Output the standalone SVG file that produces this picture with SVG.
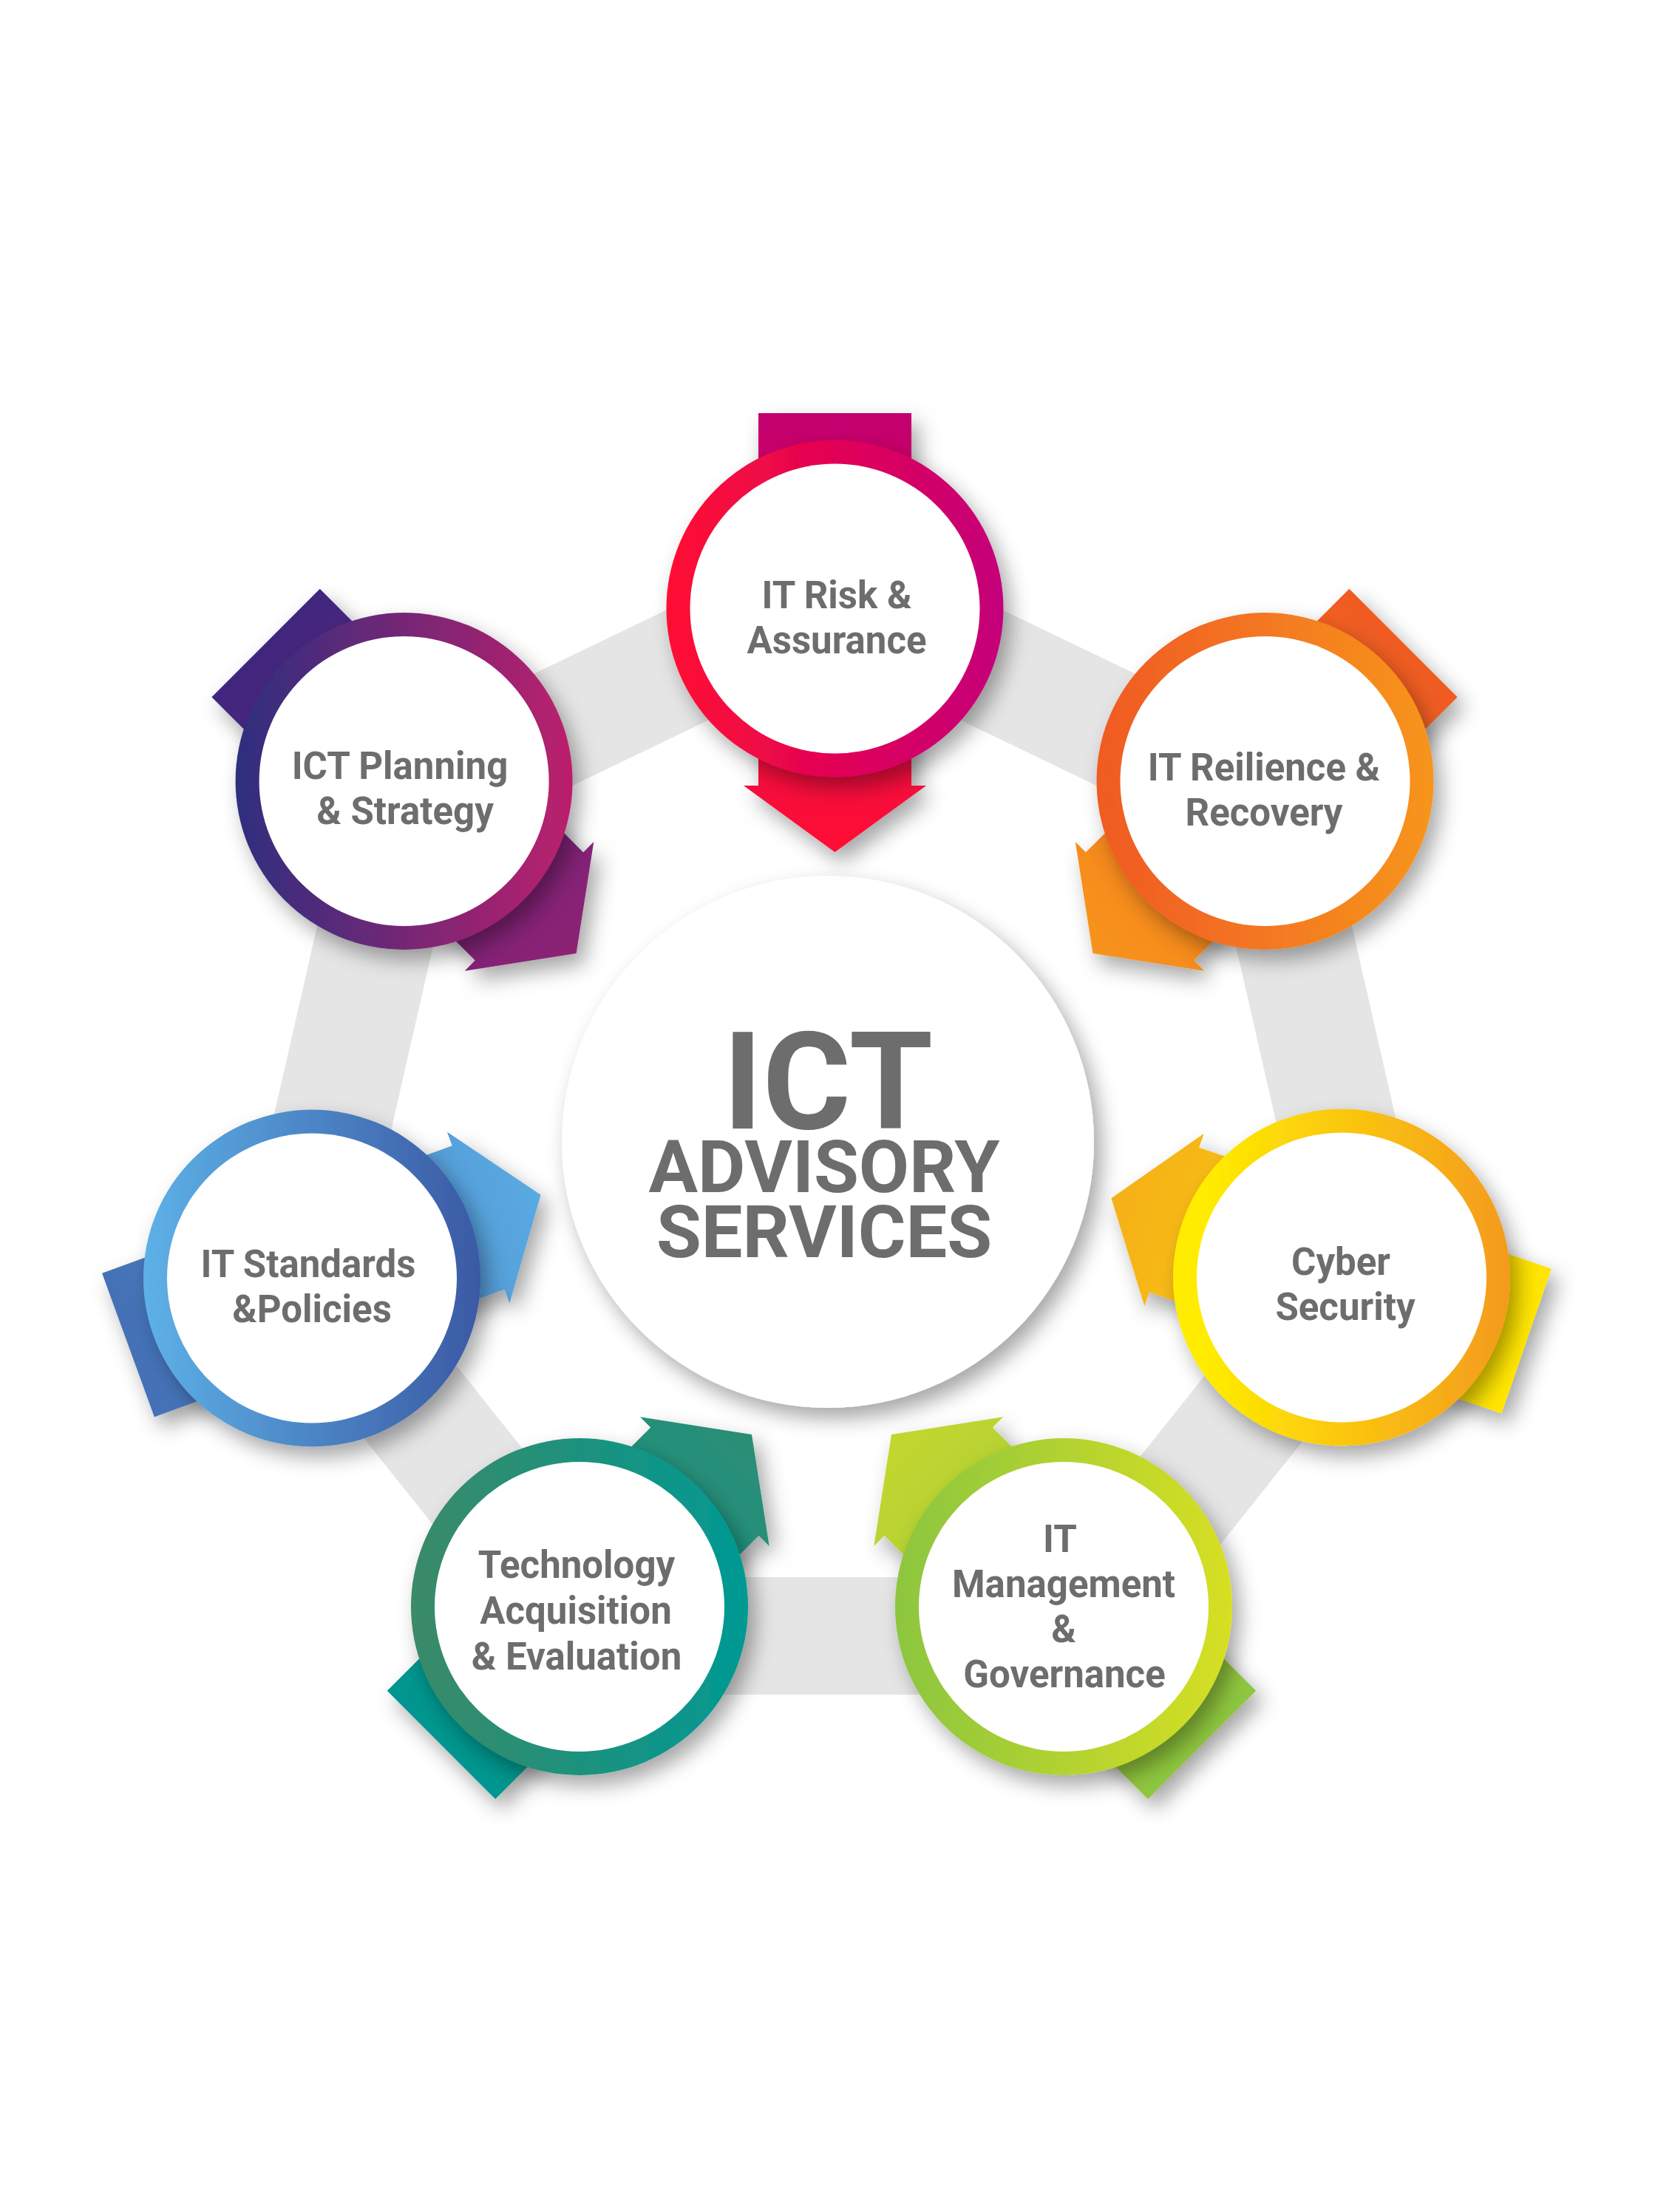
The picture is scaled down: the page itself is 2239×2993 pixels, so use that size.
<svg xmlns="http://www.w3.org/2000/svg" width="2239" height="2993" viewBox="0 0 2239 2993">
<style>
.t{font-family:Roboto,"Liberation Sans",sans-serif;font-weight:700;fill:#6D6D6D;text-anchor:middle;font-size:51px}
.c{font-family:Roboto,"Liberation Sans",sans-serif;font-weight:700;fill:#6D6D6D;text-anchor:middle}
.in{fill:#FFFFFF}
</style>
<defs>
<filter id="sh" x="-30%" y="-30%" width="160%" height="160%">
<feDropShadow dx="10" dy="14" stdDeviation="14" flood-color="#000" flood-opacity="0.35"/>
</filter>
<linearGradient id="r1" x1="0" y1="0" x2="1" y2="0"><stop offset="0" stop-color="#FF0A32"/><stop offset="1" stop-color="#C4007A"/></linearGradient>
<linearGradient id="r2" x1="0" y1="0" x2="1" y2="0"><stop offset="0" stop-color="#F05A24"/><stop offset="1" stop-color="#F7951D"/></linearGradient>
<linearGradient id="r3" x1="0" y1="0" x2="1" y2="0"><stop offset="0.1" stop-color="#FFEC00"/><stop offset="1" stop-color="#F49A1F"/></linearGradient>
<linearGradient id="r4" x1="0" y1="0" x2="1" y2="0"><stop offset="0" stop-color="#8CC63F"/><stop offset="1" stop-color="#D7DF23"/></linearGradient>
<linearGradient id="r5" x1="0" y1="0" x2="1" y2="0"><stop offset="0" stop-color="#3B8A68"/><stop offset="1" stop-color="#009993"/></linearGradient>
<linearGradient id="r6" x1="0" y1="0" x2="1" y2="0"><stop offset="0" stop-color="#5DB1E7"/><stop offset="1" stop-color="#3B59A4"/></linearGradient>
<linearGradient id="r7" x1="0" y1="0" x2="1" y2="0"><stop offset="0" stop-color="#2E2F7F"/><stop offset="1" stop-color="#BC1F6C"/></linearGradient>
<linearGradient id="a1" gradientUnits="userSpaceOnUse" x1="0" y1="-265" x2="0" y2="330"><stop offset="0" stop-color="#C2006F"/><stop offset="1" stop-color="#FF0A33"/></linearGradient>
<linearGradient id="a2" gradientUnits="userSpaceOnUse" x1="0" y1="-265" x2="0" y2="330"><stop offset="0" stop-color="#F05A24"/><stop offset="1" stop-color="#F7941D"/></linearGradient>
<linearGradient id="a3" gradientUnits="userSpaceOnUse" x1="0" y1="-265" x2="0" y2="330"><stop offset="0" stop-color="#FFE600"/><stop offset="1" stop-color="#F5B01A"/></linearGradient>
<linearGradient id="a4" gradientUnits="userSpaceOnUse" x1="0" y1="-265" x2="0" y2="330"><stop offset="0" stop-color="#8DC63F"/><stop offset="1" stop-color="#C3D62E"/></linearGradient>
<linearGradient id="a5" gradientUnits="userSpaceOnUse" x1="0" y1="-265" x2="0" y2="330"><stop offset="0" stop-color="#00968F"/><stop offset="1" stop-color="#2C8E76"/></linearGradient>
<linearGradient id="a6" gradientUnits="userSpaceOnUse" x1="0" y1="-265" x2="0" y2="330"><stop offset="0" stop-color="#4470B6"/><stop offset="1" stop-color="#5AAAE2"/></linearGradient>
<linearGradient id="a7" gradientUnits="userSpaceOnUse" x1="0" y1="-265" x2="0" y2="330"><stop offset="0" stop-color="#40287F"/><stop offset="1" stop-color="#8E2173"/></linearGradient>
</defs>
<rect width="2239" height="2993" fill="#FFFFFF"/>

<g id="connectors">
<polygon points="1129,804.1 1708.6,1083.2 1851.8,1710.5 1450.7,2213.5 807.3,2213.5 406.2,1710.5 549.4,1083.2" fill="none" stroke="#E5E5E5" stroke-width="159" stroke-linejoin="miter"/>
</g>

<g id="center">
<circle cx="1120" cy="1545" r="360" fill="#FFFFFF" filter="url(#sh)"/>
<text class="c" x="1120" y="1527" font-size="183">ICT</text>
<text class="c" x="1115" y="1613" font-size="99">ADVISORY</text>
<text class="c" x="1115" y="1701" font-size="99">SERVICES</text>
</g>

<g id="node-it-risk">
<g filter="url(#sh)"><path d="M-103.5,-264.5H103.5V239.5H123.5L0,329.5L-123.5,239.5H-103.5Z" transform="translate(1129.5 823.5) rotate(0)" fill="url(#a1)"/></g>
<circle cx="1129.5" cy="823.5" r="228" fill="url(#r1)" filter="url(#sh)"/>
<circle class="in" cx="1129.5" cy="823.5" r="196"/>
<text class="t"><tspan x="1132" y="823">IT Risk &amp;</tspan><tspan x="1132" y="884">Assurance</tspan></text>
</g>

<g id="node-it-resilience">
<g filter="url(#sh)"><path d="M-103.5,-264.5H103.5V239.5H123.5L0,329.5L-123.5,239.5H-103.5Z" transform="translate(1711.5 1057) rotate(45)" fill="url(#a2)"/></g>
<circle cx="1711.5" cy="1057" r="228" fill="url(#r2)" filter="url(#sh)"/>
<circle class="in" cx="1711.5" cy="1057" r="196"/>
<text class="t"><tspan x="1710" y="1056">IT Reilience &amp;</tspan><tspan x="1710" y="1117">Recovery</tspan></text>
</g>

<g id="node-cyber-security">
<g filter="url(#sh)"><path d="M-103.5,-264.5H103.5V239.5H123.5L0,329.5L-123.5,239.5H-103.5Z" transform="translate(1815 1728.5) rotate(109)" fill="url(#a3)"/></g>
<circle cx="1815" cy="1728.5" r="228" fill="url(#r3)" filter="url(#sh)"/>
<circle class="in" cx="1815" cy="1728.5" r="196"/>
<text class="t"><tspan x="1814" y="1725">Cyber</tspan><tspan x="1820" y="1786">Security</tspan></text>
</g>

<g id="node-it-management">
<g filter="url(#sh)"><path d="M-103.5,-264.5H103.5V239.5H123.5L0,329.5L-123.5,239.5H-103.5Z" transform="translate(1439 2174) rotate(135)" fill="url(#a4)"/></g>
<circle cx="1439" cy="2174" r="228" fill="url(#r4)" filter="url(#sh)"/>
<circle class="in" cx="1439" cy="2174" r="196"/>
<text class="t"><tspan x="1434" y="2100">IT</tspan><tspan x="1439" y="2161">Management</tspan><tspan x="1439" y="2222">&amp;</tspan><tspan x="1440" y="2283">Governance</tspan></text>
</g>

<g id="node-technology">
<g filter="url(#sh)"><path d="M-103.5,-264.5H103.5V239.5H123.5L0,329.5L-123.5,239.5H-103.5Z" transform="translate(784 2174) rotate(-135)" fill="url(#a5)"/></g>
<circle cx="784" cy="2174" r="228" fill="url(#r5)" filter="url(#sh)"/>
<circle class="in" cx="784" cy="2174" r="196"/>
<text class="t"><tspan x="780" y="2135">Technology</tspan><tspan x="779" y="2197">Acquisition</tspan><tspan x="780" y="2259">&amp; Evaluation</tspan></text>
</g>

<g id="node-it-standards">
<g filter="url(#sh)"><path d="M-103.5,-264.5H103.5V239.5H123.5L0,329.5L-123.5,239.5H-103.5Z" transform="translate(422 1729.5) rotate(-110)" fill="url(#a6)"/></g>
<circle cx="422" cy="1729.5" r="228" fill="url(#r6)" filter="url(#sh)"/>
<circle class="in" cx="422" cy="1729.5" r="196"/>
<text class="t"><tspan x="417" y="1728">IT Standards</tspan><tspan x="422" y="1789">&amp;Policies</tspan></text>
</g>

<g id="node-ict-planning">
<g filter="url(#sh)"><path d="M-103.5,-264.5H103.5V239.5H123.5L0,329.5L-123.5,239.5H-103.5Z" transform="translate(546.6 1057) rotate(-45)" fill="url(#a7)"/></g>
<circle cx="546.6" cy="1057" r="228" fill="url(#r7)" filter="url(#sh)"/>
<circle class="in" cx="546.6" cy="1057" r="196"/>
<text class="t"><tspan x="541" y="1054">ICT Planning</tspan><tspan x="548" y="1115">&amp; Strategy</tspan></text>
</g>
</svg>
